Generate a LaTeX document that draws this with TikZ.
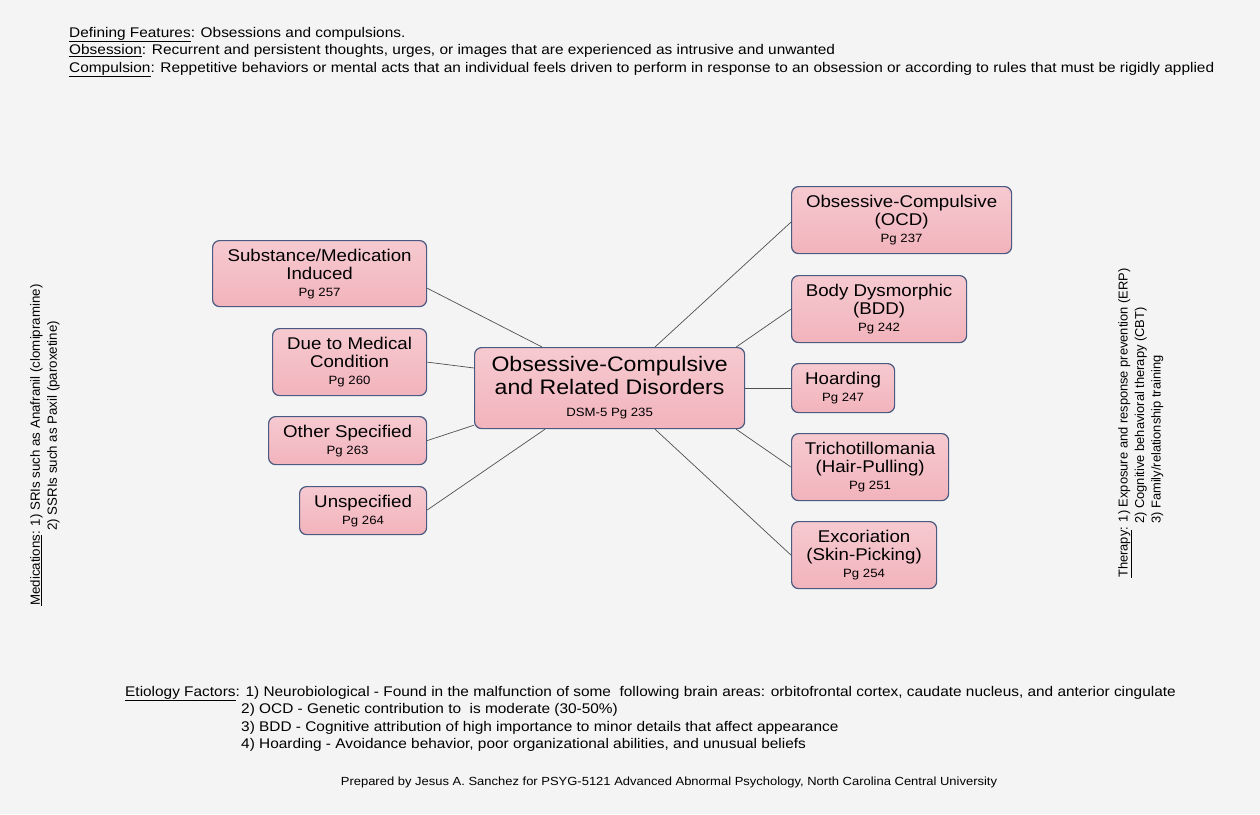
\documentclass[tikz,border=0pt]{standalone}
\usepackage{fontspec}
\setmainfont{Liberation Sans}
\newfontfamily\wide[FakeStretch=1.1]{Liberation Sans}
\usetikzlibrary{calc}
\definecolor{bg}{HTML}{F4F4F4}
\definecolor{boxfill}{HTML}{F2B3BC}
\definecolor{boxline}{HTML}{4A5A80}
\definecolor{ln}{HTML}{505050}
\begin{document}
\begin{tikzpicture}[x=1pt,y=-1pt,
  bx/.style={draw=boxline,line width=1.2pt,rounded corners=7pt,top color=boxfill!70!white,bottom color=boxfill,inner sep=0pt,align=center,anchor=north west,font=\wide\fontsize{17}{18}\selectfont},
  con/.style={draw=ln,line width=0.7pt}]
\fill[bg] (0,0) rectangle (1260,814);
\useasboundingbox (0,0) rectangle (1260,814);
\newcommand{\pg}[1]{\\[-1pt]{\fontsize{12}{13}\selectfont #1}}
\node[bx,minimum width=214,minimum height=66] (sub) at (212,240) {Substance/Medication\\Induced\pg{Pg 257}};
\node[bx,minimum width=154,minimum height=67] (med) at (272,328) {Due to Medical\\Condition\pg{Pg 260}};
\node[bx,minimum width=158,minimum height=48] (oth) at (268,416) {Other Specified\pg{Pg 263}};
\node[bx,minimum width=127,minimum height=48] (uns) at (299,486) {Unspecified\pg{Pg 264}};
\node[bx,minimum width=270,minimum height=81,font=\wide\fontsize{21}{23}\selectfont] (c) at (474,347) {Obsessive-Compulsive\\and Related Disorders\pg{DSM-5 Pg 235}};
\node[bx,minimum width=220,minimum height=67] (ocd) at (791,186) {Obsessive-Compulsive\\(OCD)\pg{Pg 237}};
\node[bx,minimum width=175,minimum height=67] (bdd) at (791,275) {Body Dysmorphic\\(BDD)\pg{Pg 242}};
\node[bx,minimum width=103,minimum height=49] (hoa) at (791,363) {Hoarding\pg{Pg 247}};
\node[bx,minimum width=157,minimum height=67] (tri) at (791,433) {Trichotillomania\\(Hair-Pulling)\pg{Pg 251}};
\node[bx,minimum width=145,minimum height=67] (exc) at (791,521) {Excoriation\\(Skin-Picking)\pg{Pg 254}};
\draw[con] ($(c.north west)+(68,0)$) -- ($(sub.south east)+(0,-19)$);
\draw[con] ($(c.north west)+(0,21)$) -- ($(med.east)$);
\draw[con] ($(c.south west)+(0,-4)$) -- ($(oth.east)$);
\draw[con] ($(c.south west)+(71,0)$) -- ($(uns.north east)+(0,24)$);
\draw[con] ($(c.north west)+(181,0)$) -- ($(ocd.west)+(0,2)$);
\draw[con] ($(c.north east)+(-9,0)$) -- ($(bdd.west)$);
\draw[con] (c.east) -- (hoa.west);
\draw[con] ($(c.south east)+(-9,0)$) -- ($(tri.west)$);
\draw[con] ($(c.south west)+(181,0)$) -- ($(exc.west)$);
\node[anchor=north west,align=left,font=\wide\fontsize{14}{17.5}\selectfont,inner sep=0pt] (top) at (69,27)
 {\underline{Defining Features}: Obsessions and compulsions.\\
  \underline{Obsession}: Recurrent and persistent thoughts, urges, or images that are experienced as intrusive and unwanted\\
  \underline{Compulsion}: Reppetitive behaviors or mental acts that an individual feels driven to perform in response to an obsession or according to rules that must be rigidly applied};
\node[anchor=north west,align=left,font=\wide\fontsize{14}{17.5}\selectfont,inner sep=0pt] (eti) at (125,686)
 {\underline{Etiology Factors}: 1) Neurobiological - Found in the malfunction of some\ \ following brain areas: orbitofrontal cortex, caudate nucleus, and anterior cingulate\\
  \hspace*{116pt}2) OCD - Genetic contribution to\ \ is moderate (30-50\%)\\
  \hspace*{116pt}3) BDD - Cognitive attribution of high importance to minor details that affect appearance\\
  \hspace*{116pt}4) Hoarding - Avoidance behavior, poor organizational abilities, and unusual beliefs};
\node[font=\wide\fontsize{11.8}{13}\selectfont,inner sep=0pt] (prep) at (669,782) {Prepared by Jesus A. Sanchez for PSYG-5121 Advanced Abnormal Psychology, North Carolina Central University};
\node[rotate=90,anchor=north west,align=left,font=\fontsize{13.3}{17}\selectfont,inner sep=0pt] (medi) at (30,606)
 {\underline{Medications}: 1) SRIs such as Anafranil (clomipramine)\\
  \hspace*{75pt}2) SSRIs such as Paxil (paroxetine)};
\node[rotate=90,anchor=north west,align=left,font=\fontsize{12.9}{16.5}\selectfont,inner sep=0pt] (ther) at (1118,578)
 {\underline{Therapy}: 1) Exposure and response prevention (ERP)\\
  \hspace*{54pt}2) Cognitive behavioral therapy (CBT)\\
  \hspace*{54pt}3) Family/relationship training};
\end{tikzpicture}
\end{document}
